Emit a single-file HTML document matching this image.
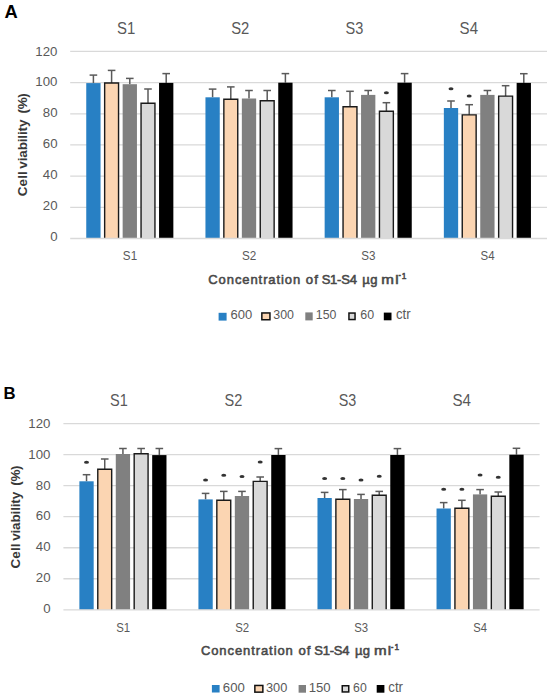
<!DOCTYPE html>
<html><head><meta charset="utf-8"><style>
html,body{margin:0;padding:0;background:#fff;overflow:hidden;}
svg{display:block;font-family:"Liberation Sans",sans-serif;}
</style></head><body>
<svg width="550" height="698" viewBox="0 0 550 698">
<rect width="550" height="698" fill="#fff"/>
<line x1="70.2" x2="547" y1="207.32" y2="207.32" stroke="#d9d9d9" stroke-width="1.3"/>
<line x1="70.2" x2="547" y1="176.14" y2="176.14" stroke="#d9d9d9" stroke-width="1.3"/>
<line x1="70.2" x2="547" y1="144.96" y2="144.96" stroke="#d9d9d9" stroke-width="1.3"/>
<line x1="70.2" x2="547" y1="113.78" y2="113.78" stroke="#d9d9d9" stroke-width="1.3"/>
<line x1="70.2" x2="547" y1="82.60" y2="82.60" stroke="#d9d9d9" stroke-width="1.3"/>
<line x1="70.2" x2="547" y1="51.42" y2="51.42" stroke="#d9d9d9" stroke-width="1.3"/>
<text transform="translate(50.13,241.02) scale(1.0100,1)" font-size="13.14" fill="#595959">0</text>
<text transform="translate(42.76,210.10) scale(1.0100,1)" font-size="13.14" fill="#595959">20</text>
<text transform="translate(42.76,179.18) scale(1.0100,1)" font-size="13.14" fill="#595959">40</text>
<text transform="translate(42.76,148.26) scale(1.0100,1)" font-size="13.14" fill="#595959">60</text>
<text transform="translate(42.76,117.34) scale(1.0100,1)" font-size="13.14" fill="#595959">80</text>
<text transform="translate(35.36,86.42) scale(1.0100,1)" font-size="13.14" fill="#595959">100</text>
<text transform="translate(35.36,55.50) scale(1.0100,1)" font-size="13.14" fill="#595959">120</text>
<line x1="93.40" x2="93.40" y1="75.10" y2="83.10" stroke="#5a5a5a" stroke-width="1.5"/>
<line x1="89.60" x2="97.20" y1="75.10" y2="75.10" stroke="#5a5a5a" stroke-width="1.5"/>
<rect x="86.25" y="83.10" width="14.30" height="155.40" fill="#2880c4"/>
<line x1="111.60" x2="111.60" y1="70.40" y2="83.00" stroke="#5a5a5a" stroke-width="1.5"/>
<line x1="107.80" x2="115.40" y1="70.40" y2="70.40" stroke="#5a5a5a" stroke-width="1.5"/>
<rect x="104.65" y="83.00" width="13.90" height="155.50" fill="#fbd5b2"/>
<path d="M104.65,238.50V83.00H118.55V238.50" fill="none" stroke="#1a1a1a" stroke-width="1.4"/>
<line x1="129.80" x2="129.80" y1="78.40" y2="84.20" stroke="#5a5a5a" stroke-width="1.5"/>
<line x1="126.00" x2="133.60" y1="78.40" y2="78.40" stroke="#5a5a5a" stroke-width="1.5"/>
<rect x="122.65" y="84.20" width="14.30" height="154.30" fill="#808080"/>
<line x1="148.00" x2="148.00" y1="89.00" y2="103.20" stroke="#5a5a5a" stroke-width="1.5"/>
<line x1="144.20" x2="151.80" y1="89.00" y2="89.00" stroke="#5a5a5a" stroke-width="1.5"/>
<rect x="141.05" y="103.20" width="13.90" height="135.30" fill="#d9d9d9"/>
<path d="M141.05,238.50V103.20H154.95V238.50" fill="none" stroke="#1a1a1a" stroke-width="1.4"/>
<line x1="166.20" x2="166.20" y1="73.60" y2="82.90" stroke="#5a5a5a" stroke-width="1.5"/>
<line x1="162.40" x2="170.00" y1="73.60" y2="73.60" stroke="#5a5a5a" stroke-width="1.5"/>
<rect x="159.05" y="82.90" width="14.30" height="155.60" fill="#000000"/>
<line x1="212.60" x2="212.60" y1="89.10" y2="97.30" stroke="#5a5a5a" stroke-width="1.5"/>
<line x1="208.80" x2="216.40" y1="89.10" y2="89.10" stroke="#5a5a5a" stroke-width="1.5"/>
<rect x="205.45" y="97.30" width="14.30" height="141.20" fill="#2880c4"/>
<line x1="230.80" x2="230.80" y1="86.90" y2="99.20" stroke="#5a5a5a" stroke-width="1.5"/>
<line x1="227.00" x2="234.60" y1="86.90" y2="86.90" stroke="#5a5a5a" stroke-width="1.5"/>
<rect x="223.85" y="99.20" width="13.90" height="139.30" fill="#fbd5b2"/>
<path d="M223.85,238.50V99.20H237.75V238.50" fill="none" stroke="#1a1a1a" stroke-width="1.4"/>
<line x1="249.00" x2="249.00" y1="90.50" y2="98.50" stroke="#5a5a5a" stroke-width="1.5"/>
<line x1="245.20" x2="252.80" y1="90.50" y2="90.50" stroke="#5a5a5a" stroke-width="1.5"/>
<rect x="241.85" y="98.50" width="14.30" height="140.00" fill="#808080"/>
<line x1="267.20" x2="267.20" y1="90.50" y2="100.80" stroke="#5a5a5a" stroke-width="1.5"/>
<line x1="263.40" x2="271.00" y1="90.50" y2="90.50" stroke="#5a5a5a" stroke-width="1.5"/>
<rect x="260.25" y="100.80" width="13.90" height="137.70" fill="#d9d9d9"/>
<path d="M260.25,238.50V100.80H274.15V238.50" fill="none" stroke="#1a1a1a" stroke-width="1.4"/>
<line x1="285.40" x2="285.40" y1="73.60" y2="82.70" stroke="#5a5a5a" stroke-width="1.5"/>
<line x1="281.60" x2="289.20" y1="73.60" y2="73.60" stroke="#5a5a5a" stroke-width="1.5"/>
<rect x="278.25" y="82.70" width="14.30" height="155.80" fill="#000000"/>
<line x1="331.80" x2="331.80" y1="90.50" y2="97.30" stroke="#5a5a5a" stroke-width="1.5"/>
<line x1="328.00" x2="335.60" y1="90.50" y2="90.50" stroke="#5a5a5a" stroke-width="1.5"/>
<rect x="324.65" y="97.30" width="14.30" height="141.20" fill="#2880c4"/>
<line x1="350.00" x2="350.00" y1="91.30" y2="106.80" stroke="#5a5a5a" stroke-width="1.5"/>
<line x1="346.20" x2="353.80" y1="91.30" y2="91.30" stroke="#5a5a5a" stroke-width="1.5"/>
<rect x="343.05" y="106.80" width="13.90" height="131.70" fill="#fbd5b2"/>
<path d="M343.05,238.50V106.80H356.95V238.50" fill="none" stroke="#1a1a1a" stroke-width="1.4"/>
<line x1="368.20" x2="368.20" y1="90.50" y2="94.90" stroke="#5a5a5a" stroke-width="1.5"/>
<line x1="364.40" x2="372.00" y1="90.50" y2="90.50" stroke="#5a5a5a" stroke-width="1.5"/>
<rect x="361.05" y="94.90" width="14.30" height="143.60" fill="#808080"/>
<line x1="386.40" x2="386.40" y1="102.70" y2="111.30" stroke="#5a5a5a" stroke-width="1.5"/>
<line x1="382.60" x2="390.20" y1="102.70" y2="102.70" stroke="#5a5a5a" stroke-width="1.5"/>
<rect x="379.45" y="111.30" width="13.90" height="127.20" fill="#d9d9d9"/>
<path d="M379.45,238.50V111.30H393.35V238.50" fill="none" stroke="#1a1a1a" stroke-width="1.4"/>
<ellipse cx="386.40" cy="92.70" rx="2.5" ry="1.5" fill="#333333"/>
<line x1="404.60" x2="404.60" y1="73.60" y2="82.70" stroke="#5a5a5a" stroke-width="1.5"/>
<line x1="400.80" x2="408.40" y1="73.60" y2="73.60" stroke="#5a5a5a" stroke-width="1.5"/>
<rect x="397.45" y="82.70" width="14.30" height="155.80" fill="#000000"/>
<line x1="451.00" x2="451.00" y1="101.00" y2="108.00" stroke="#5a5a5a" stroke-width="1.5"/>
<line x1="447.20" x2="454.80" y1="101.00" y2="101.00" stroke="#5a5a5a" stroke-width="1.5"/>
<rect x="443.85" y="108.00" width="14.30" height="130.50" fill="#2880c4"/>
<ellipse cx="451.00" cy="88.80" rx="2.5" ry="1.5" fill="#333333"/>
<line x1="469.20" x2="469.20" y1="104.70" y2="114.90" stroke="#5a5a5a" stroke-width="1.5"/>
<line x1="465.40" x2="473.00" y1="104.70" y2="104.70" stroke="#5a5a5a" stroke-width="1.5"/>
<rect x="462.25" y="114.90" width="13.90" height="123.60" fill="#fbd5b2"/>
<path d="M462.25,238.50V114.90H476.15V238.50" fill="none" stroke="#1a1a1a" stroke-width="1.4"/>
<ellipse cx="469.20" cy="96.00" rx="2.5" ry="1.5" fill="#333333"/>
<line x1="487.40" x2="487.40" y1="90.50" y2="94.90" stroke="#5a5a5a" stroke-width="1.5"/>
<line x1="483.60" x2="491.20" y1="90.50" y2="90.50" stroke="#5a5a5a" stroke-width="1.5"/>
<rect x="480.25" y="94.90" width="14.30" height="143.60" fill="#808080"/>
<line x1="505.60" x2="505.60" y1="85.70" y2="96.10" stroke="#5a5a5a" stroke-width="1.5"/>
<line x1="501.80" x2="509.40" y1="85.70" y2="85.70" stroke="#5a5a5a" stroke-width="1.5"/>
<rect x="498.65" y="96.10" width="13.90" height="142.40" fill="#d9d9d9"/>
<path d="M498.65,238.50V96.10H512.55V238.50" fill="none" stroke="#1a1a1a" stroke-width="1.4"/>
<line x1="523.80" x2="523.80" y1="73.70" y2="82.90" stroke="#5a5a5a" stroke-width="1.5"/>
<line x1="520.00" x2="527.60" y1="73.70" y2="73.70" stroke="#5a5a5a" stroke-width="1.5"/>
<rect x="516.65" y="82.90" width="14.30" height="155.60" fill="#000000"/>
<line x1="70.2" x2="547" y1="238.50" y2="238.50" stroke="#d9d9d9" stroke-width="1.3"/>
<text transform="translate(122.87,259.77) scale(0.8700,1)" font-size="13.43" fill="#595959">S1</text>
<text transform="translate(242.07,259.77) scale(0.8719,1)" font-size="13.43" fill="#595959">S2</text>
<text transform="translate(361.28,259.77) scale(0.8661,1)" font-size="13.43" fill="#595959">S3</text>
<text transform="translate(480.48,259.77) scale(0.8548,1)" font-size="13.43" fill="#595959">S4</text>
<text transform="translate(116.93,33.93) scale(0.8745,1)" font-size="17.10" fill="#595959">S1</text>
<text transform="translate(231.13,33.93) scale(0.8660,1)" font-size="17.10" fill="#595959">S2</text>
<text transform="translate(345.45,33.93) scale(0.8500,1)" font-size="17.10" fill="#595959">S3</text>
<text transform="translate(459.62,33.93) scale(0.8796,1)" font-size="17.10" fill="#595959">S4</text>
<text transform="translate(4.54,17.80) scale(1.0345,1)" font-size="17.75" font-weight="bold" fill="#000">A</text>
<text transform="translate(27.00,196.34) rotate(-90) scale(1.0000,1)" font-size="13.50" font-weight="bold" fill="#383838" letter-spacing="0.115">Cell</text>
<text transform="translate(27.00,168.67) rotate(-90) scale(1.0000,1)" font-size="13.50" font-weight="bold" fill="#383838" letter-spacing="-0.152">viability</text>
<text transform="translate(27.00,113.47) rotate(-90) scale(1.0000,1)" font-size="13.50" font-weight="bold" fill="#383838" letter-spacing="-0.371">(%)</text>
<text transform="translate(208.32,283.50) scale(1.0000,1)" font-size="13.01" fill="#484848" stroke="#484848" stroke-width="0.55" letter-spacing="0.913">Concentration</text>
<text transform="translate(305.82,283.50) scale(1.0116,1)" font-size="13.01" fill="#484848" stroke="#484848" stroke-width="0.55" letter-spacing="1.100">of</text>
<text transform="translate(321.69,283.50) scale(1.0000,1)" font-size="13.01" fill="#484848" stroke="#484848" stroke-width="0.55" letter-spacing="-0.236">S1-S4</text>
<text transform="translate(362.30,283.50) scale(1.0000,1)" font-size="13.01" fill="#484848" stroke="#484848" stroke-width="0.55" letter-spacing="0.440">µg</text>
<text transform="translate(381.30,283.50) scale(1.1674,1)" font-size="13.01" fill="#484848" stroke="#484848" stroke-width="0.55" letter-spacing="1.100">ml</text>
<text transform="translate(398.51,278.40) scale(0.8425,1)" font-size="8.50" fill="#484848" stroke="#484848" stroke-width="0.55">-</text>
<text transform="translate(401.84,278.60) scale(0.9481,1)" font-size="8.73" fill="#484848" stroke="#484848" stroke-width="0.55">1</text>
<rect x="218.60" y="312.80" width="8.00" height="7.80" fill="#2880c4"/>
<text transform="translate(230.45,319.47) scale(0.9919,1)" font-size="13.14" fill="#595959">600</text>
<rect x="261.85" y="312.95" width="8.10" height="6.80" fill="#fbd5b2" stroke="#111" stroke-width="1.5"/>
<text transform="translate(273.23,319.47) scale(0.9459,1)" font-size="13.14" fill="#595959">300</text>
<rect x="305.30" y="312.40" width="7.40" height="8.00" fill="#808080"/>
<text transform="translate(315.87,319.47) scale(0.9393,1)" font-size="13.14" fill="#595959">150</text>
<rect x="348.95" y="313.05" width="6.10" height="6.50" fill="#d9d9d9" stroke="#111" stroke-width="1.5"/>
<text transform="translate(360.28,319.47) scale(0.9449,1)" font-size="13.14" fill="#595959">60</text>
<rect x="383.80" y="312.60" width="7.70" height="7.70" fill="#000000"/>
<text transform="translate(395.93,319.49) scale(0.9136,1)" font-size="14.56" fill="#595959">ctr</text>
<line x1="63.4" x2="539.6" y1="578.77" y2="578.77" stroke="#d9d9d9" stroke-width="1.3"/>
<line x1="63.4" x2="539.6" y1="547.74" y2="547.74" stroke="#d9d9d9" stroke-width="1.3"/>
<line x1="63.4" x2="539.6" y1="516.71" y2="516.71" stroke="#d9d9d9" stroke-width="1.3"/>
<line x1="63.4" x2="539.6" y1="485.68" y2="485.68" stroke="#d9d9d9" stroke-width="1.3"/>
<line x1="63.4" x2="539.6" y1="454.65" y2="454.65" stroke="#d9d9d9" stroke-width="1.3"/>
<line x1="63.4" x2="539.6" y1="423.62" y2="423.62" stroke="#d9d9d9" stroke-width="1.3"/>
<text transform="translate(43.13,613.32) scale(1.0100,1)" font-size="13.14" fill="#595959">0</text>
<text transform="translate(35.76,582.37) scale(1.0100,1)" font-size="13.14" fill="#595959">20</text>
<text transform="translate(35.76,551.42) scale(1.0100,1)" font-size="13.14" fill="#595959">40</text>
<text transform="translate(35.76,520.47) scale(1.0100,1)" font-size="13.14" fill="#595959">60</text>
<text transform="translate(35.76,489.52) scale(1.0100,1)" font-size="13.14" fill="#595959">80</text>
<text transform="translate(28.36,458.57) scale(1.0100,1)" font-size="13.14" fill="#595959">100</text>
<text transform="translate(28.36,427.62) scale(1.0100,1)" font-size="13.14" fill="#595959">120</text>
<line x1="86.53" x2="86.53" y1="474.70" y2="481.30" stroke="#5a5a5a" stroke-width="1.5"/>
<line x1="82.73" x2="90.33" y1="474.70" y2="474.70" stroke="#5a5a5a" stroke-width="1.5"/>
<rect x="79.38" y="481.30" width="14.30" height="128.50" fill="#2880c4"/>
<ellipse cx="86.53" cy="462.30" rx="2.5" ry="1.5" fill="#333333"/>
<line x1="104.73" x2="104.73" y1="459.00" y2="469.20" stroke="#5a5a5a" stroke-width="1.5"/>
<line x1="100.93" x2="108.53" y1="459.00" y2="459.00" stroke="#5a5a5a" stroke-width="1.5"/>
<rect x="97.78" y="469.20" width="13.90" height="140.60" fill="#fbd5b2"/>
<path d="M97.78,609.80V469.20H111.68V609.80" fill="none" stroke="#1a1a1a" stroke-width="1.4"/>
<line x1="122.93" x2="122.93" y1="448.50" y2="454.00" stroke="#5a5a5a" stroke-width="1.5"/>
<line x1="119.13" x2="126.73" y1="448.50" y2="448.50" stroke="#5a5a5a" stroke-width="1.5"/>
<rect x="115.78" y="454.00" width="14.30" height="155.80" fill="#808080"/>
<line x1="141.12" x2="141.12" y1="448.50" y2="453.70" stroke="#5a5a5a" stroke-width="1.5"/>
<line x1="137.32" x2="144.93" y1="448.50" y2="448.50" stroke="#5a5a5a" stroke-width="1.5"/>
<rect x="134.18" y="453.70" width="13.90" height="156.10" fill="#d9d9d9"/>
<path d="M134.18,609.80V453.70H148.08V609.80" fill="none" stroke="#1a1a1a" stroke-width="1.4"/>
<line x1="159.33" x2="159.33" y1="448.50" y2="455.10" stroke="#5a5a5a" stroke-width="1.5"/>
<line x1="155.53" x2="163.13" y1="448.50" y2="448.50" stroke="#5a5a5a" stroke-width="1.5"/>
<rect x="152.18" y="455.10" width="14.30" height="154.70" fill="#000000"/>
<line x1="205.58" x2="205.58" y1="493.40" y2="499.40" stroke="#5a5a5a" stroke-width="1.5"/>
<line x1="201.78" x2="209.38" y1="493.40" y2="493.40" stroke="#5a5a5a" stroke-width="1.5"/>
<rect x="198.43" y="499.40" width="14.30" height="110.40" fill="#2880c4"/>
<ellipse cx="205.58" cy="480.00" rx="2.5" ry="1.5" fill="#333333"/>
<line x1="223.78" x2="223.78" y1="491.40" y2="500.20" stroke="#5a5a5a" stroke-width="1.5"/>
<line x1="219.98" x2="227.58" y1="491.40" y2="491.40" stroke="#5a5a5a" stroke-width="1.5"/>
<rect x="216.83" y="500.20" width="13.90" height="109.60" fill="#fbd5b2"/>
<path d="M216.83,609.80V500.20H230.73V609.80" fill="none" stroke="#1a1a1a" stroke-width="1.4"/>
<ellipse cx="223.78" cy="475.20" rx="2.5" ry="1.5" fill="#333333"/>
<line x1="241.98" x2="241.98" y1="491.40" y2="496.00" stroke="#5a5a5a" stroke-width="1.5"/>
<line x1="238.18" x2="245.78" y1="491.40" y2="491.40" stroke="#5a5a5a" stroke-width="1.5"/>
<rect x="234.83" y="496.00" width="14.30" height="113.80" fill="#808080"/>
<ellipse cx="241.98" cy="476.40" rx="2.5" ry="1.5" fill="#333333"/>
<line x1="260.18" x2="260.18" y1="477.00" y2="481.40" stroke="#5a5a5a" stroke-width="1.5"/>
<line x1="256.38" x2="263.98" y1="477.00" y2="477.00" stroke="#5a5a5a" stroke-width="1.5"/>
<rect x="253.23" y="481.40" width="13.90" height="128.40" fill="#d9d9d9"/>
<path d="M253.23,609.80V481.40H267.12V609.80" fill="none" stroke="#1a1a1a" stroke-width="1.4"/>
<ellipse cx="260.18" cy="462.00" rx="2.5" ry="1.5" fill="#333333"/>
<line x1="278.38" x2="278.38" y1="448.60" y2="455.00" stroke="#5a5a5a" stroke-width="1.5"/>
<line x1="274.57" x2="282.18" y1="448.60" y2="448.60" stroke="#5a5a5a" stroke-width="1.5"/>
<rect x="271.23" y="455.00" width="14.30" height="154.80" fill="#000000"/>
<line x1="324.62" x2="324.62" y1="492.40" y2="498.00" stroke="#5a5a5a" stroke-width="1.5"/>
<line x1="320.82" x2="328.43" y1="492.40" y2="492.40" stroke="#5a5a5a" stroke-width="1.5"/>
<rect x="317.48" y="498.00" width="14.30" height="111.80" fill="#2880c4"/>
<ellipse cx="324.62" cy="478.60" rx="2.5" ry="1.5" fill="#333333"/>
<line x1="342.82" x2="342.82" y1="489.60" y2="499.20" stroke="#5a5a5a" stroke-width="1.5"/>
<line x1="339.02" x2="346.62" y1="489.60" y2="489.60" stroke="#5a5a5a" stroke-width="1.5"/>
<rect x="335.88" y="499.20" width="13.90" height="110.60" fill="#fbd5b2"/>
<path d="M335.88,609.80V499.20H349.77V609.80" fill="none" stroke="#1a1a1a" stroke-width="1.4"/>
<ellipse cx="342.82" cy="478.60" rx="2.5" ry="1.5" fill="#333333"/>
<line x1="361.02" x2="361.02" y1="494.40" y2="499.00" stroke="#5a5a5a" stroke-width="1.5"/>
<line x1="357.22" x2="364.82" y1="494.40" y2="494.40" stroke="#5a5a5a" stroke-width="1.5"/>
<rect x="353.88" y="499.00" width="14.30" height="110.80" fill="#808080"/>
<ellipse cx="361.02" cy="480.00" rx="2.5" ry="1.5" fill="#333333"/>
<line x1="379.22" x2="379.22" y1="491.40" y2="495.20" stroke="#5a5a5a" stroke-width="1.5"/>
<line x1="375.42" x2="383.02" y1="491.40" y2="491.40" stroke="#5a5a5a" stroke-width="1.5"/>
<rect x="372.27" y="495.20" width="13.90" height="114.60" fill="#d9d9d9"/>
<path d="M372.27,609.80V495.20H386.17V609.80" fill="none" stroke="#1a1a1a" stroke-width="1.4"/>
<ellipse cx="379.22" cy="476.20" rx="2.5" ry="1.5" fill="#333333"/>
<line x1="397.42" x2="397.42" y1="448.60" y2="455.00" stroke="#5a5a5a" stroke-width="1.5"/>
<line x1="393.62" x2="401.22" y1="448.60" y2="448.60" stroke="#5a5a5a" stroke-width="1.5"/>
<rect x="390.27" y="455.00" width="14.30" height="154.80" fill="#000000"/>
<line x1="443.68" x2="443.68" y1="502.60" y2="508.50" stroke="#5a5a5a" stroke-width="1.5"/>
<line x1="439.88" x2="447.48" y1="502.60" y2="502.60" stroke="#5a5a5a" stroke-width="1.5"/>
<rect x="436.53" y="508.50" width="14.30" height="101.30" fill="#2880c4"/>
<ellipse cx="443.68" cy="489.20" rx="2.5" ry="1.5" fill="#333333"/>
<line x1="461.88" x2="461.88" y1="500.30" y2="508.20" stroke="#5a5a5a" stroke-width="1.5"/>
<line x1="458.08" x2="465.68" y1="500.30" y2="500.30" stroke="#5a5a5a" stroke-width="1.5"/>
<rect x="454.93" y="508.20" width="13.90" height="101.60" fill="#fbd5b2"/>
<path d="M454.93,609.80V508.20H468.83V609.80" fill="none" stroke="#1a1a1a" stroke-width="1.4"/>
<ellipse cx="461.88" cy="489.20" rx="2.5" ry="1.5" fill="#333333"/>
<line x1="480.08" x2="480.08" y1="489.60" y2="494.40" stroke="#5a5a5a" stroke-width="1.5"/>
<line x1="476.28" x2="483.88" y1="489.60" y2="489.60" stroke="#5a5a5a" stroke-width="1.5"/>
<rect x="472.93" y="494.40" width="14.30" height="115.40" fill="#808080"/>
<ellipse cx="480.08" cy="475.00" rx="2.5" ry="1.5" fill="#333333"/>
<line x1="498.28" x2="498.28" y1="492.00" y2="496.30" stroke="#5a5a5a" stroke-width="1.5"/>
<line x1="494.48" x2="502.08" y1="492.00" y2="492.00" stroke="#5a5a5a" stroke-width="1.5"/>
<rect x="491.33" y="496.30" width="13.90" height="113.50" fill="#d9d9d9"/>
<path d="M491.33,609.80V496.30H505.23V609.80" fill="none" stroke="#1a1a1a" stroke-width="1.4"/>
<ellipse cx="498.28" cy="477.30" rx="2.5" ry="1.5" fill="#333333"/>
<line x1="516.48" x2="516.48" y1="448.30" y2="454.70" stroke="#5a5a5a" stroke-width="1.5"/>
<line x1="512.68" x2="520.27" y1="448.30" y2="448.30" stroke="#5a5a5a" stroke-width="1.5"/>
<rect x="509.33" y="454.70" width="14.30" height="155.10" fill="#000000"/>
<line x1="63.4" x2="539.6" y1="609.80" y2="609.80" stroke="#d9d9d9" stroke-width="1.3"/>
<text transform="translate(116.16,631.97) scale(0.8876,1)" font-size="12.86" fill="#595959">S1</text>
<text transform="translate(235.21,631.97) scale(0.8895,1)" font-size="12.86" fill="#595959">S2</text>
<text transform="translate(354.26,631.97) scale(0.8836,1)" font-size="12.86" fill="#595959">S3</text>
<text transform="translate(473.32,631.97) scale(0.8721,1)" font-size="12.86" fill="#595959">S4</text>
<text transform="translate(110.05,405.83) scale(0.8557,1)" font-size="16.96" fill="#595959">S1</text>
<text transform="translate(224.45,405.83) scale(0.8576,1)" font-size="16.96" fill="#595959">S2</text>
<text transform="translate(338.75,405.83) scale(0.8467,1)" font-size="16.96" fill="#595959">S3</text>
<text transform="translate(452.52,405.83) scale(0.8921,1)" font-size="16.96" fill="#595959">S4</text>
<text transform="translate(3.47,398.50) scale(1.0264,1)" font-size="16.29" font-weight="bold" fill="#000">B</text>
<text transform="translate(19.90,568.54) rotate(-90) scale(1.0000,1)" font-size="13.50" font-weight="bold" fill="#383838" letter-spacing="0.115">Cell</text>
<text transform="translate(19.90,540.87) rotate(-90) scale(1.0000,1)" font-size="13.50" font-weight="bold" fill="#383838" letter-spacing="-0.152">viability</text>
<text transform="translate(19.90,485.68) rotate(-90) scale(1.0000,1)" font-size="13.50" font-weight="bold" fill="#383838" letter-spacing="-0.371">(%)</text>
<text transform="translate(200.92,655.20) scale(1.0000,1)" font-size="13.01" fill="#484848" stroke="#484848" stroke-width="0.55" letter-spacing="0.913">Concentration</text>
<text transform="translate(298.42,655.20) scale(1.0116,1)" font-size="13.01" fill="#484848" stroke="#484848" stroke-width="0.55" letter-spacing="1.100">of</text>
<text transform="translate(314.29,655.20) scale(1.0000,1)" font-size="13.01" fill="#484848" stroke="#484848" stroke-width="0.55" letter-spacing="-0.236">S1-S4</text>
<text transform="translate(354.90,655.20) scale(1.0000,1)" font-size="13.01" fill="#484848" stroke="#484848" stroke-width="0.55" letter-spacing="0.440">µg</text>
<text transform="translate(373.90,655.20) scale(1.1674,1)" font-size="13.01" fill="#484848" stroke="#484848" stroke-width="0.55" letter-spacing="1.100">ml</text>
<text transform="translate(391.11,650.10) scale(0.8425,1)" font-size="8.50" fill="#484848" stroke="#484848" stroke-width="0.55">-</text>
<text transform="translate(394.44,650.30) scale(0.9481,1)" font-size="8.73" fill="#484848" stroke="#484848" stroke-width="0.55">1</text>
<rect x="211.90" y="685.00" width="7.70" height="7.50" fill="#2880c4"/>
<text transform="translate(222.84,691.87) scale(0.9908,1)" font-size="13.29" fill="#595959">600</text>
<rect x="254.85" y="685.45" width="8.00" height="6.70" fill="#fbd5b2" stroke="#111" stroke-width="1.5"/>
<text transform="translate(265.92,691.87) scale(0.9642,1)" font-size="13.29" fill="#595959">300</text>
<rect x="298.60" y="685.00" width="7.40" height="7.70" fill="#808080"/>
<text transform="translate(308.71,691.87) scale(0.9923,1)" font-size="13.29" fill="#595959">150</text>
<rect x="342.25" y="685.75" width="6.50" height="6.20" fill="#d9d9d9" stroke="#111" stroke-width="1.5"/>
<text transform="translate(353.09,691.87) scale(0.9201,1)" font-size="13.29" fill="#595959">60</text>
<rect x="376.70" y="685.00" width="7.70" height="7.70" fill="#000000"/>
<text transform="translate(388.23,691.89) scale(0.9041,1)" font-size="14.71" fill="#595959">ctr</text>
</svg>
</body></html>
